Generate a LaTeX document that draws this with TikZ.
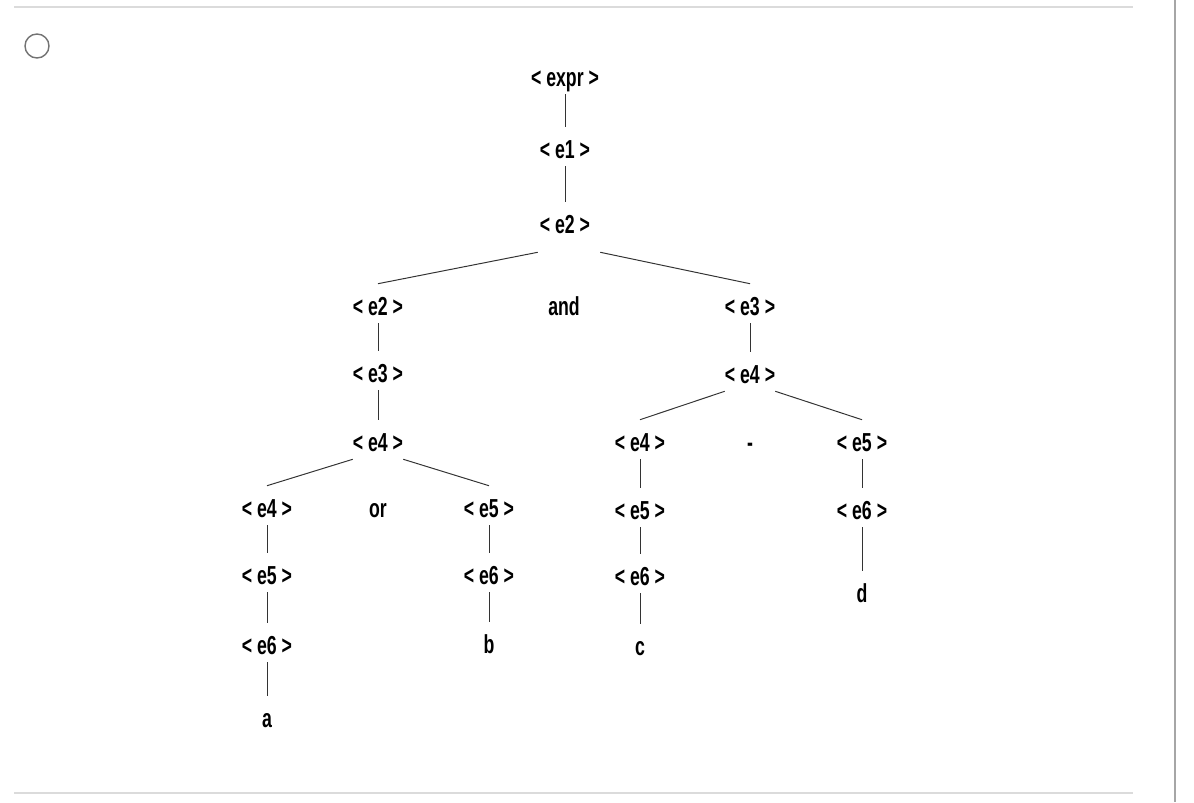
\documentclass[tikz,border=0pt]{standalone}
\usepackage{fontspec}
\setmainfont{Liberation Sans}
\tikzset{
   px/.style={x=0.025cm, y=-0.025cm},
   sym/.style={anchor=base, xscale=0.68, inner xsep=0pt, inner ysep=0.075cm,
      text height=0.7cm, text depth=0.125cm,
      font=\fontsize{18.5pt}{22pt}\selectfont\bfseries},
   branch/.style={draw=black!80, line width=0.7pt},
   rule/.style={draw=black!14, line width=1.2pt},
   bar/.style={draw=black!35, line width=1.4pt},
   radio/.style={draw=black!55, line width=1pt},
    }
\begin{document}
\begin{tikzpicture}[px]
            \useasboundingbox (0,0) rectangle (1194,802);
            \draw[rule] (14,7) -- (1133,7);
            \draw[rule] (14,793) -- (1133,793);
            \draw[bar] (1175,0) -- (1175,802);
            \draw[radio] (37,46) circle (0.3cm);
            \node[sym] (expr) at (565,86) {< expr >};
            \node[sym] (e1) at (565,158) {< e1 >};
            \node[sym] (e2) at (565,233) {< e2 >};
            \node[sym] (e2l) at (378,315) {< e2 >};
            \node[sym] (andop) at (564,315) {and};
            \node[sym] (e3r) at (750,315) {< e3 >};
            \node[sym] (e3l) at (378,382) {< e3 >};
            \node[sym] (e4r) at (750,383) {< e4 >};
            \node[sym] (e4l) at (378,451) {< e4 >};
            \node[sym] (e4rl) at (640,451) {< e4 >};
            \node[sym] (minusop) at (750,451) {-};
            \node[sym] (e5rr) at (862,451) {< e5 >};
            \node[sym] (e4ll) at (267,517) {< e4 >};
            \node[sym] (orop) at (378,517) {or};
            \node[sym] (e5lr) at (489,517) {< e5 >};
            \node[sym] (e5rl) at (640,519) {< e5 >};
            \node[sym] (e6rr) at (862,519) {< e6 >};
            \node[sym] (e5ll) at (267,584) {< e5 >};
            \node[sym] (e6lr) at (489,584) {< e6 >};
            \node[sym] (e6rl) at (640,585) {< e6 >};
            \node[sym] (e6ll) at (267,654) {< e6 >};
            \node[sym] (b) at (489,653) {b};
            \node[sym] (c) at (640,655) {c};
            \node[sym] (a) at (267,727) {a};
            \node[sym] (d) at (862,602) {d};
            \draw[branch] (expr.south) -- (e1.north);
            \draw[branch] (e1.south) -- (e2.north);
            \draw[branch] ([shift={(-2,11)}]e2.south west) -- (e2l.north);
            \draw[branch] ([shift={(10,11)}]e2.south east) -- (e3r.north);
            \draw[branch] (e2l.south) -- (e3l.north);
            \draw[branch] (e3l.south) -- (e4l.north);
            \draw[branch] (e3r.south) -- (e4r.north);
            \draw[branch] (e4r.south west) -- (e4rl.north);
            \draw[branch] (e4r.south east) -- (e5rr.north);
            \draw[branch] (e4l.south west) -- (e4ll.north);
            \draw[branch] (e4l.south east) -- (e5lr.north);
            \draw[branch] (e4ll.south) -- (e5ll.north);
            \draw[branch] (e5ll.south) -- (e6ll.north);
            \draw[branch] (e6ll.south) -- (a.north);
            \draw[branch] (e5lr.south) -- (e6lr.north);
            \draw[branch] (e6lr.south) -- (b.north);
            \draw[branch] (e4rl.south) -- (e5rl.north);
            \draw[branch] (e5rl.south) -- (e6rl.north);
            \draw[branch] (e6rl.south) -- (c.north);
            \draw[branch] (e5rr.south) -- (e6rr.north);
            \draw[branch] (e6rr.south) -- (d.north);
        \end{tikzpicture}
\end{document}
